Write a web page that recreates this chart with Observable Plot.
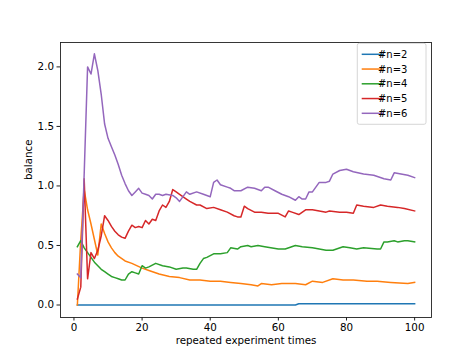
<!DOCTYPE html>
<html>
<head>
<meta charset="utf-8">
<script src="https://cdn.jsdelivr.net/npm/d3@7"></script>
<script src="https://cdn.jsdelivr.net/npm/@observablehq/plot@0.6"></script>
<style>
  html, body { margin: 0; padding: 0; background: #fff; }
  #chart { width: 474px; height: 356px; }
</style>
</head>
<body>
<div id="chart"></div>
<script>
// ---- data ----
const seriesNames = ["#n=2", "#n=3", "#n=4", "#n=5", "#n=6"];
const seriesColors = ["#1f77b4", "#ff7f0e", "#2ca02c", "#d62728", "#9467bd"];
const xTicks = [0, 20, 40, 60, 80, 100];
const yTicks = [0.0, 0.5, 1.0, 1.5, 2.0];
const xLabel = "repeated experiment times";
const yLabel = "balance";

const n2X = [1, 65, 66, 100];
const n2Y = [0, 0, 0.01, 0.01];

const n3X = [1, 2, 3, 4, 5, 6, 7, 8, 9, 10, 11, 12, 13, 15, 17, 20, 22, 25, 28, 31, 34, 37, 40, 43, 46, 49, 52, 54, 55, 58, 61, 65, 68, 70, 73, 76, 79, 82, 86, 89, 93, 98, 100];
const n3Y = [0.0, 0.55, 0.97, 0.80, 0.68, 0.55, 0.42, 0.68, 0.60, 0.53, 0.48, 0.44, 0.41, 0.37, 0.35, 0.31, 0.29, 0.26, 0.24, 0.23, 0.21, 0.21, 0.20, 0.20, 0.19, 0.18, 0.17, 0.16, 0.18, 0.17, 0.18, 0.18, 0.17, 0.20, 0.19, 0.22, 0.21, 0.21, 0.20, 0.20, 0.19, 0.18, 0.19];

const n4X = [1, 2, 3, 4, 5, 6, 7, 8, 9, 10, 11, 12, 13, 14, 15, 16, 17, 18, 19, 20, 21, 22, 24, 26, 28, 30, 32, 33, 35, 36, 37, 38, 39, 41, 43, 45, 46, 48, 49, 51, 52, 54, 56, 60, 62, 65, 67, 70, 72, 74, 76, 79, 81, 83, 85, 89, 90, 91, 92, 94, 95, 97, 98, 100];
const n4Y = [0.49, 0.54, 0.48, 0.44, 0.40, 0.36, 0.33, 0.30, 0.28, 0.26, 0.24, 0.23, 0.22, 0.21, 0.21, 0.26, 0.28, 0.27, 0.26, 0.33, 0.31, 0.32, 0.35, 0.33, 0.32, 0.30, 0.31, 0.31, 0.30, 0.30, 0.35, 0.39, 0.40, 0.43, 0.43, 0.44, 0.48, 0.47, 0.49, 0.50, 0.49, 0.50, 0.49, 0.47, 0.47, 0.50, 0.49, 0.48, 0.47, 0.46, 0.46, 0.49, 0.48, 0.47, 0.48, 0.47, 0.47, 0.53, 0.53, 0.54, 0.53, 0.54, 0.54, 0.53];

const n5X = [1, 2, 3, 4, 5, 6, 7, 8, 9, 10, 11, 12, 13, 14, 15, 16, 17, 18, 19, 20, 21, 22, 23, 24, 25, 26, 27, 28, 29, 30, 31, 33, 34, 36, 37, 39, 41, 43, 45, 47, 48, 49, 50, 51, 53, 55, 57, 60, 62, 63, 64, 66, 68, 70, 72, 74, 75, 78, 80, 82, 83, 85, 88, 90, 92, 95, 97, 100];
const n5Y = [0.05, 0.15, 1.06, 0.22, 0.44, 0.39, 0.46, 0.58, 0.75, 0.71, 0.66, 0.62, 0.59, 0.57, 0.56, 0.62, 0.67, 0.65, 0.66, 0.65, 0.71, 0.68, 0.72, 0.71, 0.79, 0.84, 0.82, 0.87, 0.97, 0.95, 0.93, 0.89, 0.87, 0.84, 0.84, 0.81, 0.82, 0.80, 0.78, 0.75, 0.74, 0.74, 0.83, 0.81, 0.78, 0.78, 0.77, 0.77, 0.74, 0.79, 0.78, 0.76, 0.80, 0.80, 0.79, 0.78, 0.79, 0.78, 0.78, 0.77, 0.84, 0.83, 0.82, 0.84, 0.83, 0.82, 0.81, 0.79];

const n6X = [1, 2, 3, 4, 5, 6, 7, 8, 9, 10, 11, 12, 13, 14, 15, 16, 17, 18, 19, 20, 21, 22, 23, 24, 25, 26, 27, 29, 30, 31, 32, 33, 34, 36, 38, 39, 40, 41, 42, 43, 45, 46, 47, 49, 51, 53, 55, 56, 57, 59, 61, 63, 65, 66, 67, 68, 69, 70, 72, 74, 75, 76, 78, 80, 82, 85, 88, 91, 93, 94, 96, 98, 100];
const n6Y = [0.26, 0.23, 1.10, 2.00, 1.94, 2.11, 1.97, 1.77, 1.52, 1.40, 1.33, 1.26, 1.18, 1.09, 1.02, 0.96, 0.92, 0.95, 0.98, 0.94, 0.93, 0.92, 0.89, 0.93, 0.93, 0.92, 0.93, 0.92, 0.90, 0.87, 0.91, 0.95, 0.93, 0.95, 0.93, 0.92, 0.91, 1.03, 1.05, 1.01, 0.99, 0.98, 0.96, 0.96, 0.99, 0.98, 0.96, 0.99, 0.99, 0.96, 0.93, 0.91, 0.88, 0.91, 0.89, 0.89, 0.95, 0.95, 1.03, 1.03, 1.04, 1.10, 1.13, 1.14, 1.12, 1.10, 1.09, 1.06, 1.05, 1.11, 1.10, 1.09, 1.07];

// ---- build table ----
const allX = [n2X, n3X, n4X, n5X, n6X];
const allY = [n2Y, n3Y, n4Y, n5Y, n6Y];
const rows = [];
seriesNames.forEach((name, i) => {
  allX[i].forEach((x, j) => rows.push({series: name, x, v: allY[i][j]}));
});

const W = 474, H = 356;
const mL = 60, mR = 43, mT = 42, mB = 39;

const chart = Plot.plot({
  width: W,
  height: H,
  marginLeft: mL,
  marginRight: mR,
  marginTop: mT,
  marginBottom: mB,
  style: {fontFamily: "DejaVu Sans", fontSize: "10.3px", color: "#000", background: "#fff", overflow: "visible"},
  x: {domain: [-3.95, 104.95]},
  y: {domain: [-0.105, 2.205]},
  color: {domain: seriesNames, range: seriesColors},
  marks: [
    Plot.line(rows, {x: "x", y: "v", z: "series", stroke: "series", strokeWidth: 1.5, strokeLinejoin: "round", strokeLinecap: "square"}),
    Plot.frame({stroke: "#222", strokeWidth: 0.9}),
    Plot.axisX({ticks: xTicks, tickSize: 3.5, tickPadding: 3, tickFormat: d => String(d), label: null, stroke: "#222"}),
    Plot.axisY({ticks: yTicks, tickSize: 3.5, tickPadding: 3, tickFormat: d => d.toFixed(1), label: null, stroke: "#222"}),
    Plot.text([xLabel], {frameAnchor: "bottom", dy: 26, fontSize: 10.3, fill: "#000"}),
    Plot.text([yLabel], {frameAnchor: "left", dx: -32, rotate: -90, fontSize: 10.3, fill: "#000"})
  ]
});

document.getElementById("chart").appendChild(chart);

// ---- legend (upper right, matplotlib style) ----
const svg = d3.select(chart);
const lg = svg.append("g").attr("font-family", "DejaVu Sans").attr("font-size", "10px");
const lx = W - mR - 73.7, ly = mT + 1.3;
lg.append("rect")
  .attr("x", lx).attr("y", ly).attr("width", 68.7).attr("height", 81)
  .attr("rx", 2).attr("fill", "#fff").attr("fill-opacity", 0.85)
  .attr("stroke", "#cccccc").attr("stroke-width", 0.8);
seriesNames.forEach((name, i) => {
  const yy = ly + 11 + i * 14.75;
  lg.append("line")
    .attr("x1", lx + 4.4).attr("x2", lx + 26).attr("y1", yy).attr("y2", yy)
    .attr("stroke", seriesColors[i]).attr("stroke-width", 1.5);
  lg.append("text")
    .attr("x", lx + 35.4).attr("y", yy).attr("dy", "0.35em")
    .attr("fill", "#000").text(name);
});
</script>
</body>
</html>
